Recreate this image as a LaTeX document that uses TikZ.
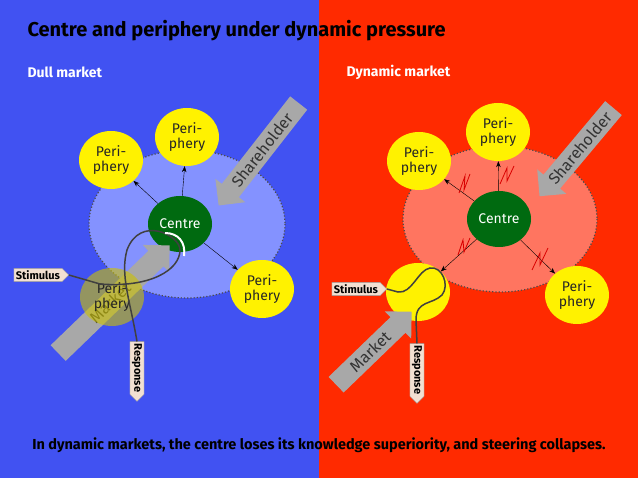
\documentclass[tikz,border=0pt]{standalone}
\usepackage{fontspec}
\setmainfont{Fira Sans}
\usetikzlibrary{shapes.arrows,shapes.symbols,shapes.geometric,arrows.meta}
\definecolor{bg1}{HTML}{4152F2}
\definecolor{bg2}{HTML}{FF2A00}
\definecolor{ell1}{HTML}{8492FF}
\definecolor{ell2}{HTML}{FF7560}
\definecolor{cgreen}{HTML}{006A10}
\definecolor{pyel}{HTML}{FFF200}
\definecolor{tagc}{HTML}{F2E0D2}
\definecolor{arrg}{HTML}{A8A8A8}
\begin{document}
\begin{tikzpicture}[x=1pt,y=-1pt,
  zone/.style={draw=black!70,dotted,line width=1.2pt},
  centre/.style={ellipse,fill=cgreen,minimum width=64,minimum height=56,text=white,font=\fontsize{14}{16}\selectfont,inner sep=0},
  peri/.style={ellipse,fill=pyel,minimum width=64,minimum height=58,align=center,font=\fontsize{14}{15}\selectfont,inner sep=0,text=black!85},
  link/.style={-{Stealth[length=6pt]},thin,black},
  big/.style={single arrow,fill=arrg,single arrow head extend=7pt,minimum height=#1,minimum width=38,inner sep=3pt,font=\fontsize{16}{18}\selectfont,text=black!80},
  tag/.style={signal,signal to=east,fill=tagc,draw=black!40,font=\fontsize{11}{12}\selectfont\bfseries,inner sep=2pt},
  loop/.style={line width=1.5pt,black!75},
  bolt/.style={red!85!black,thick},
  ttl/.style={font=\fontsize{14}{16}\selectfont\bfseries,text=white,anchor=west}]
\fill[bg1] (0,0) rectangle (319,478);
\fill[bg2] (319,0) rectangle (638,478);
\useasboundingbox (0,0) rectangle (638,478);
\node[font=\fontsize{20}{22}\selectfont\bfseries,anchor=west] (title) at (24,31) {Centre and periphery under dynamic pressure};
\node[ttl] (dull) at (24,72) {Dull market};
\node[ttl] (dyn) at (343,72) {Dynamic market};
% left panel
\path[zone,fill=ell1] (187,224) ellipse [x radius=98,y radius=74];
\node[centre] (c1) at (180,224) {Centre};
\node[peri] (p1a) at (111,160) {Peri-\\phery};
\node[peri] (p1b) at (187,137) {Peri-\\phery};
\node[peri] (p1c) at (262,289) {Peri-\\phery};
\draw[link] (c1) -- (p1a);
\draw[link] (c1) -- (p1b);
\draw[link] (c1) -- (p1c);
\node[big=130,rotate=52,shape border rotate=180] (sh1) at (262,150) {Shareholder};
\node[big=155,rotate=44] (m1) at (110,303) {Market};
\node[peri,fill=pyel!80!black,fill opacity=0.6,text opacity=1] (p1d) at (112,297) {Peri-\\phery};
\node[tag] (s1) at (38,275) {Stimulus};
\node[tag,rotate=-90] (r1) at (137,368) {Response};
\draw[loop] (s1.east) -- (100,284) .. controls (150,288) and (180,270) .. (180,250)
  .. controls (180,235) and (140,215) .. (127,250) .. controls (120,275) and (130,300) .. (r1.west);
\draw[white,line width=2pt] (165,233) .. controls (178,233) and (186,242) .. (184,256);
% right panel
\path[zone,fill=ell2] (500,219) ellipse [x radius=97,y radius=73];
\node[centre] (c2) at (499,219) {Centre};
\node[peri] (p2a) at (419,161) {Peri-\\phery};
\node[peri] (p2b) at (498,132) {Peri-\\phery};
\node[peri] (p2c) at (577,295) {Peri-\\phery};
\node[peri] (p2d) at (418,292) {};
\draw[link] (c2) -- (p2a);
\draw[link] (c2) -- (p2b);
\draw[link] (c2) -- (p2c);
\draw[link] (c2) -- (p2d);
\node[big=115,rotate=50,shape border rotate=180] (sh2) at (580,148) {Shareholder};
\node[big=105,rotate=44] (m2) at (370,352) {Market};
\node[tag] (s2) at (356,289) {Stimulus};
\node[tag,rotate=-90] (r2) at (417,370) {Response};
\draw[loop] (s2.east) -- (398,292) .. controls (412,294) and (418,270) .. (430,268)
  .. controls (442,266) and (450,285) .. (442,295) .. controls (432,305) and (416,300) .. (416,320) -- (r2.west);
% lightning bolts
\draw[bolt] (459,193) -- (465,176) -- (464,190) -- (470,174);
\draw[bolt] (500,184) -- (507,168) -- (507,181) -- (514,166);
\draw[bolt] (458,255) -- (463,240) -- (464,252) -- (470,238);
\draw[bolt] (532,270) -- (540,253) -- (540,265) -- (548,248);
\node[font=\fontsize{14.5}{16}\selectfont\bfseries] (foot) at (319,445) {In dynamic markets, the centre loses its knowledge superiority, and steering collapses.};
\end{tikzpicture}
\end{document}
